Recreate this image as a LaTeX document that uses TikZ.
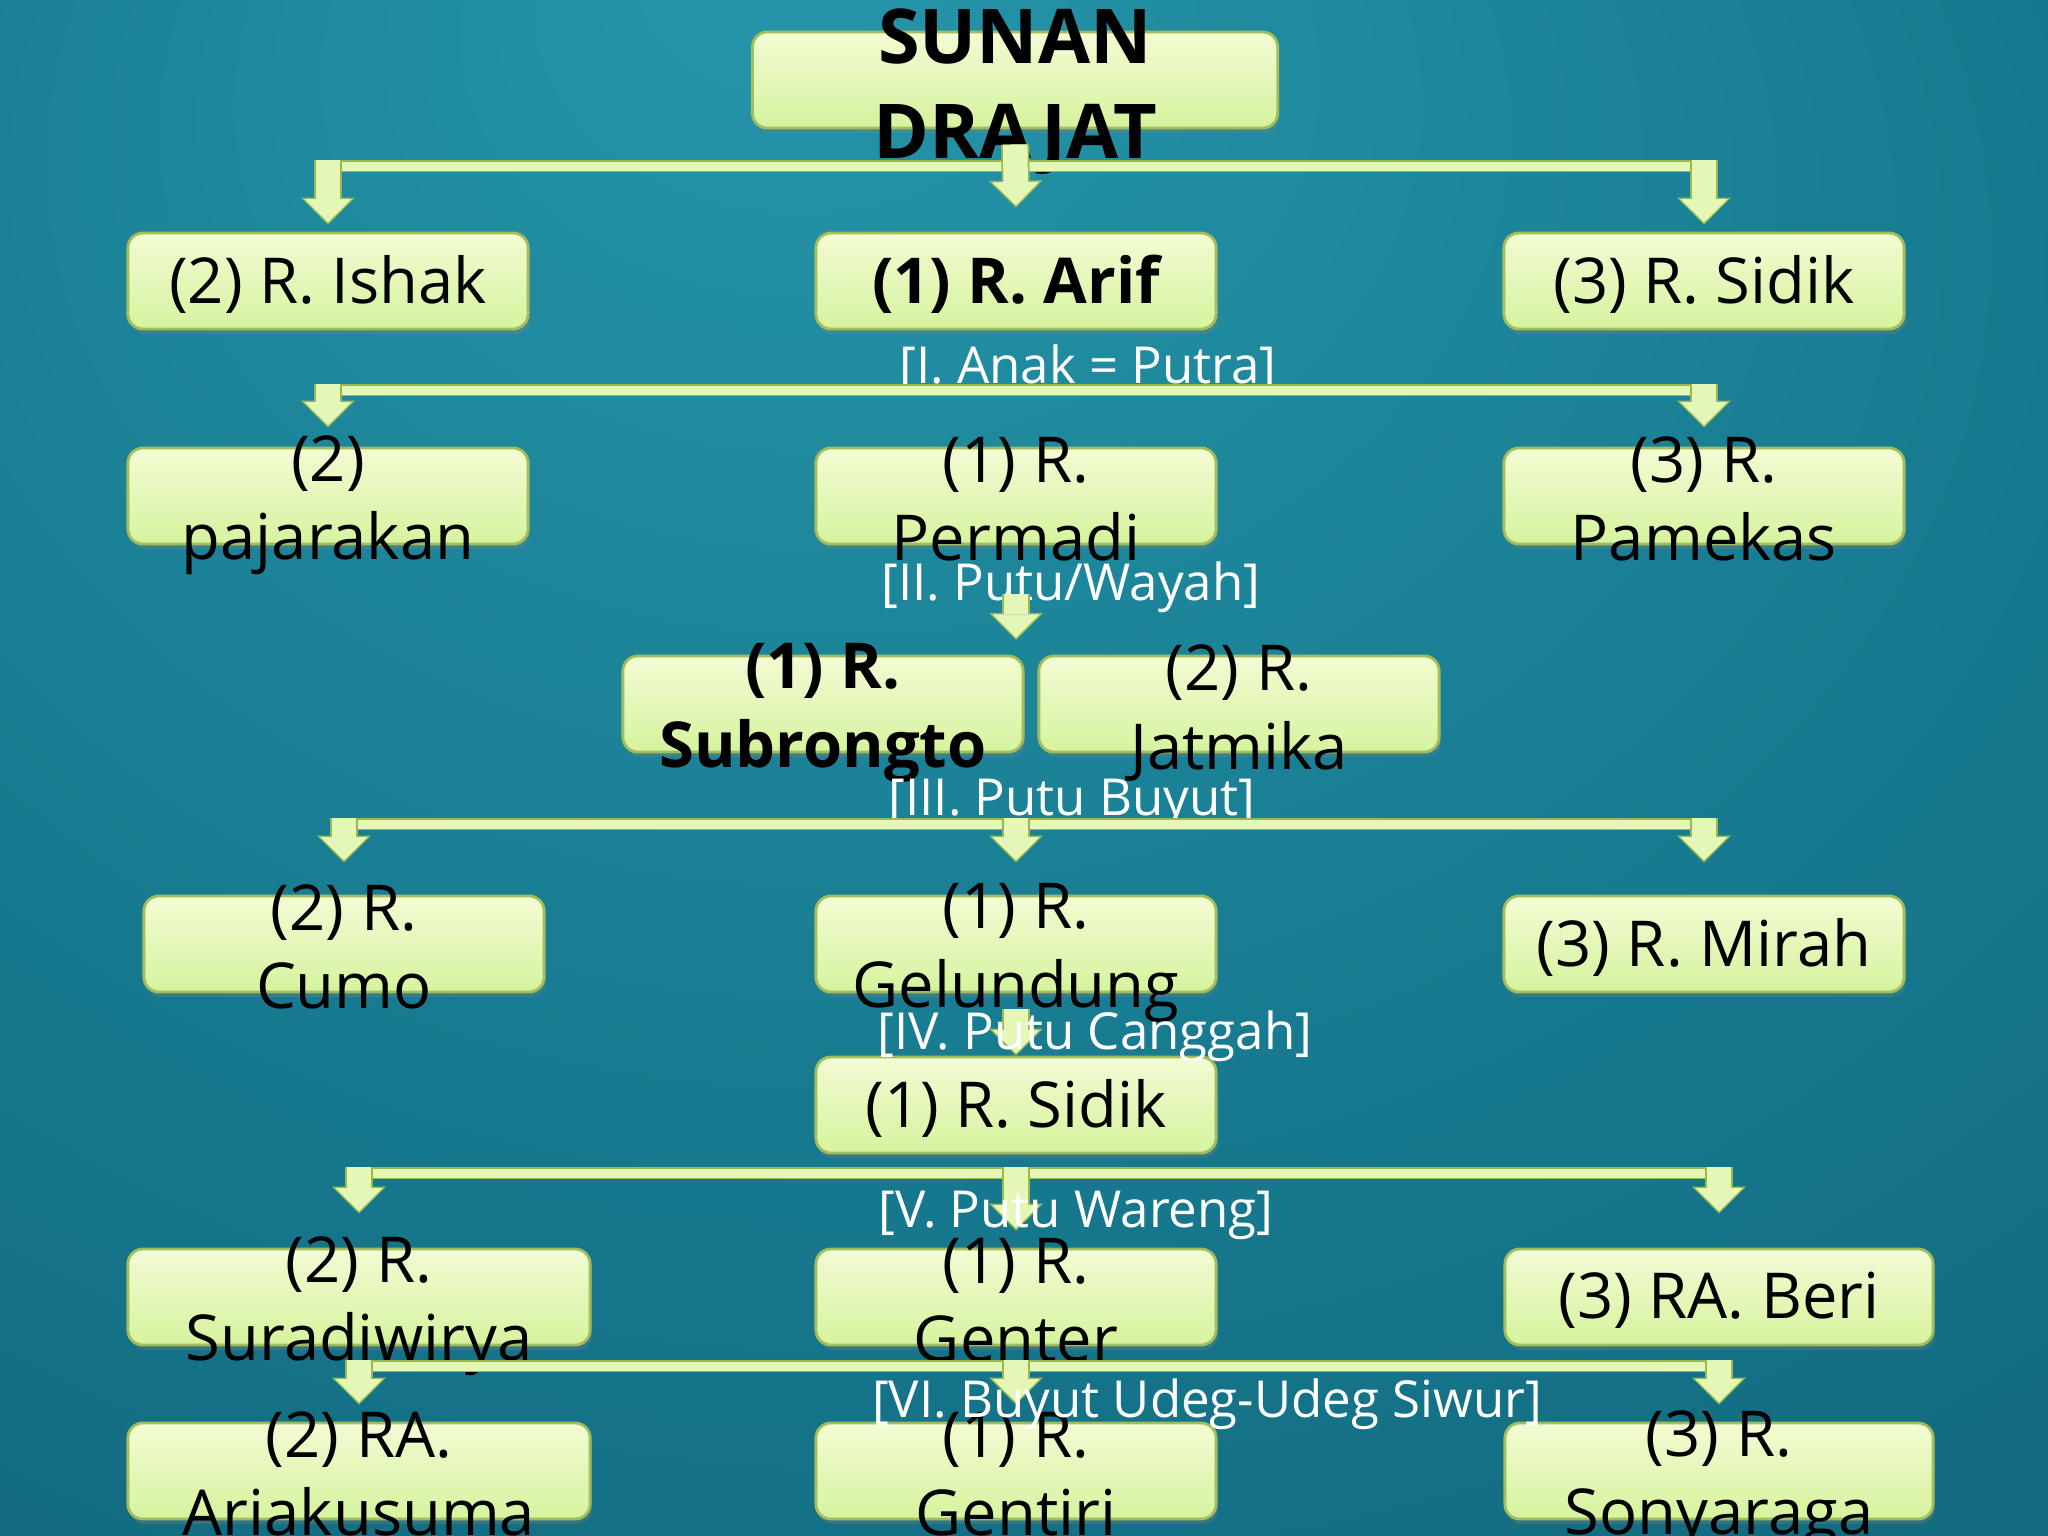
\documentclass[tikz,border=0pt]{standalone}
\usepackage{fontspec}
\setmainfont{Open Sans}
\usetikzlibrary{arrows.meta,shadows}

\definecolor{boxtop}{RGB}{243,251,212}
\definecolor{boxbot}{RGB}{214,243,158}
\definecolor{boxedge}{RGB}{160,190,90}
\definecolor{linkfill}{RGB}{228,247,182}
\definecolor{linkedge}{RGB}{150,185,80}
\definecolor{tealhi}{RGB}{38,150,170}
\definecolor{tealmid}{RGB}{22,120,142}
\definecolor{teallo}{RGB}{12,78,98}
\pgfdeclareradialshading{tealbg}{\pgfpoint{-6bp}{27bp}}{color(0bp)=(tealhi); color(30bp)=(tealmid); color(72bp)=(teallo)}

\begin{document}
\begin{tikzpicture}[x=0.01cm,y=-0.01cm,
	box/.style={draw=boxedge, line width=0.8pt, rounded corners=0.15cm, top color=boxtop, bottom color=boxbot,
		minimum width=4cm, minimum height=0.96cm, inner sep=0pt,
		drop shadow={shadow xshift=0.02cm, shadow yshift=-0.05cm, opacity=0.3}},
	nm/.style={font=\fontsize{18}{22.2}\selectfont, align=center, inner sep=0pt, yshift=-0.03cm},
	nmg/.style={nm, yshift=-0.06cm},
	nmb/.style={nm, font=\fontsize{18}{22.2}\selectfont\bfseries},
	lvl/.style={font=\fontsize{14.5}{17}\selectfont, text=white, anchor=base, inner sep=0pt},
	bar/.style={draw=linkfill, line width=0.09cm, preaction={draw=linkedge, line width=0.125cm}},
	fat/.style={draw=linkfill, line width=0.245cm, shorten <=-0.06cm, shorten >=0.021cm,
		-{Triangle[width=0.47cm,length=0.234cm,line width=0pt]},
		preaction={draw=linkedge, line width=0.28cm, shorten >=0pt,
			-{Triangle[width=0.54cm,length=0.27cm,line width=0pt]}}}]
	\shade[shading=tealbg, use as bounding box] (0,0) rectangle (2048,1536);

	\node[box, minimum width=5.25cm, label={[nm, yshift=-0.09cm, font=\fontsize{21.5}{27}\selectfont\bfseries]center:{SUNAN\\DRAJAT}}] (drajat) at (1015,80) {};
	\node[box, label={[nm]center:{(2) R. Ishak}}] (ishak) at (328,281) {};
	\node[box, label={[nmb]center:{(1) R. Arif}}] (arif) at (1016,281) {};
	\node[box, label={[nm]center:{(3) R. Sidik}}] (sidika) at (1704,281) {};
	\node[box, label={[nmg]center:{(2)\\pajarakan}}] (pajarakan) at (328,496) {};
	\node[box, label={[nm]center:{(1) R.\\Permadi}}] (permadi) at (1016,496) {};
	\node[box, label={[nm]center:{(3) R.\\Pamekas}}] (pamekas) at (1704,496) {};
	\node[box, label={[nmg, font=\fontsize{18}{22.2}\selectfont\bfseries]center:{(1) R.\\Subrongto}}] (subrongto) at (823,704) {};
	\node[box, label={[nmg]center:{(2) R.\\Jatmika}}] (jatmika) at (1239,704) {};
	\node[box, label={[nm]center:{(2) R.\\Cumo}}] (cumo) at (344,944) {};
	\node[box, label={[nmg]center:{(1) R.\\Gelundung}}] (gelundung) at (1016,944) {};
	\node[box, label={[nm]center:{(3) R. Mirah}}] (mirah) at (1704,944) {};
	\node[box, label={[nm]center:{(1) R. Sidik}}] (sidikb) at (1016,1105) {};
	\node[box, minimum width=4.62cm, label={[nmg]center:{(2) R.\\Suradiwirya}}] (suradiwirya) at (359,1297) {};
	\node[box, label={[nm]center:{(1) R.\\Genter}}] (genter) at (1016,1297) {};
	\node[box, minimum width=4.28cm, label={[nm]center:{(3) RA. Beri}}] (beri) at (1719,1297) {};
	\node[box, minimum width=4.62cm, label={[nm]center:{(2) RA.\\Ariakusuma}}] (ariakusuma) at (359,1471) {};
	\node[box, label={[nm]center:{(1) R.\\Gentiri}}] (gentiri) at (1016,1471) {};
	\node[box, minimum width=4.28cm, label={[nmg]center:{(3) R.\\Sonyaraga}}] (sonyaraga) at (1719,1471) {};

	\node[lvl] (lv1) at (1088,383) {[I. Anak = Putra]};
	\node[lvl] (lv2) at (1071,600) {[II. Putu/Wayah]};
	\node[lvl] (lv3) at (1072,815) {[III. Putu Buyut]};

	\coordinate (b1) at (0,166);
	\coordinate (b2) at (0,390);
	\coordinate (t2) at (0,640);
	\coordinate (b3) at (0,824);
	\coordinate (b5) at (0,1173);
	\coordinate (b6) at (0,1366);

	\draw[bar] (ishak |- b1) -- (sidika |- b1);
	\draw[bar] (pajarakan |- b2) -- (pamekas |- b2);
	\draw[bar] (cumo |- b3) -- (mirah |- b3);
	\draw[bar] (suradiwirya |- b5) -- (beri |- b5);
	\draw[bar] (ariakusuma |- b6) -- (sonyaraga |- b6);

	\draw[fat] (ishak |- b1) -- ([yshift=0.07cm]ishak.north);
	\draw[fat, shorten <=0.15cm] (drajat.south) -- ([yshift=0.24cm]arif.north);
	\draw[fat] (sidika |- b1) -- ([yshift=0.07cm]sidika.north);
	\draw[fat] (pajarakan |- b2) -- ([yshift=0.19cm]pajarakan.north);
	\draw[fat] (pamekas |- b2) -- ([yshift=0.19cm]pamekas.north);
	\draw[fat, shorten <=0.49cm] (permadi.south) -- (permadi |- t2);
	\draw[fat] (cumo |- b3) -- ([yshift=0.32cm]cumo.north);
	\draw[fat] (gelundung |- b3) -- ([yshift=0.32cm]gelundung.north);
	\draw[fat] (mirah |- b3) -- ([yshift=0.32cm]mirah.north);
	\draw[fat, shorten <=0.16cm] (gelundung.south) -- (sidikb.north);
	\draw[fat] (suradiwirya |- b5) -- ([yshift=0.34cm]suradiwirya.north);
	\draw[fat] (genter |- b5) -- ([yshift=0.17cm]genter.north);
	\draw[fat] (beri |- b5) -- ([yshift=0.34cm]beri.north);
	\draw[fat] (ariakusuma |- b6) -- ([yshift=0.17cm]ariakusuma.north);
	\draw[fat] (gentiri |- b6) -- ([yshift=0.17cm]gentiri.north);
	\draw[fat] (sonyaraga |- b6) -- ([yshift=0.17cm]sonyaraga.north);

	\node[lvl] (lv4) at (1095,1049) {[IV. Putu Canggah]};
	\node[lvl] (lv5) at (1076,1227) {[V. Putu Wareng]};
	\node[lvl] (lv6) at (1207,1417) {[VI. Buyut Udeg-Udeg Siwur]};
\end{tikzpicture}
\end{document}
